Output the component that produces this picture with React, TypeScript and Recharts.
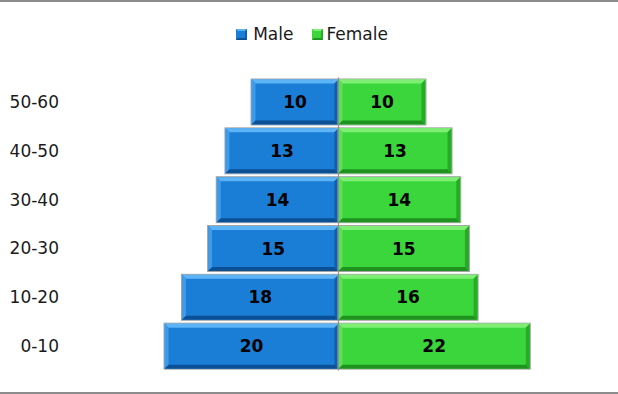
import React from "react";
import { BarChart, Bar, XAxis, YAxis, Legend, LabelList, ReferenceLine } from "recharts";

const ageGroups = ["50-60", "40-50", "30-40", "20-30", "10-20", "0-10"];
const maleValues = [10, 13, 14, 15, 18, 20];
const femaleValues = [10, 13, 14, 15, 16, 22];

const data = ageGroups.map((age, i) => ({
  age,
  male: -maleValues[i],
  female: femaleValues[i],
}));

const FONT = "'DejaVu Sans', Verdana, sans-serif";

const palettes: Record<string, { main: string; top: string; left: string; right: string; bottom: string }> = {
  male: { main: "#1a7dd6", top: "#5cb3f5", left: "#3f9ae8", right: "#0f5fae", bottom: "#0b4f94" },
  female: { main: "#3bd63b", top: "#7eef74", left: "#5be055", right: "#28aa28", bottom: "#1f921f" },
};

const BevelBar = (props: any) => {
  const { x, y, width, height, pal } = props;
  if (width == null || height == null) return null;
  const x0 = Math.min(x, x + width);
  const w = Math.abs(width);
  const y0 = Math.min(y, y + height);
  const h = Math.abs(height);
  const b = 4;
  const p = palettes[pal];
  return (
    <g>
      <rect x={x0 - 0.5} y={y0 - 0.5} width={w + 1} height={h + 1} fill="none" stroke="#a5a5a5" strokeWidth={1} />
      <rect x={x0} y={y0} width={w} height={h} fill={p.main} />
      <polygon points={`${x0},${y0} ${x0 + w},${y0} ${x0 + w - b},${y0 + b} ${x0 + b},${y0 + b}`} fill={p.top} />
      <polygon points={`${x0},${y0} ${x0 + b},${y0 + b} ${x0 + b},${y0 + h - b} ${x0},${y0 + h}`} fill={p.left} />
      <polygon points={`${x0 + w},${y0} ${x0 + w},${y0 + h} ${x0 + w - b},${y0 + h - b} ${x0 + w - b},${y0 + b}`} fill={p.right} />
      <polygon points={`${x0},${y0 + h} ${x0 + w},${y0 + h} ${x0 + w - b},${y0 + h - b} ${x0 + b},${y0 + h - b}`} fill={p.bottom} />
    </g>
  );
};

const AgeTick = (props: any) => {
  const { y, payload } = props;
  return (
    <text x={59} y={y} textAnchor="end" dominantBaseline="central" fontFamily={FONT} fontSize={17} fill="#1a1a1a">
      {payload.value}
    </text>
  );
};

const LegendIcon = ({ pal }: { pal: string }) => {
  const p = palettes[pal];
  return (
    <svg width={11} height={11} style={{ display: "block" }}>
      <rect x={0} y={0} width={11} height={11} fill={p.main} />
      <polygon points="0,0 11,0 9,2 2,2" fill={p.top} />
      <polygon points="11,0 11,11 9,9 9,2" fill={p.right} />
      <polygon points="0,11 11,11 9,9 2,9" fill={p.bottom} />
    </svg>
  );
};

const CustomLegend = () => (
  <div style={{ display: "flex", justifyContent: "center", alignItems: "center", fontFamily: FONT, fontSize: 17, color: "#1a1a1a" }}>
    <div style={{ display: "flex", alignItems: "center", marginRight: 19 }}>
      <LegendIcon pal="male" />
      <span style={{ marginLeft: 6 }}>Male</span>
    </div>
    <div style={{ display: "flex", alignItems: "center" }}>
      <LegendIcon pal="female" />
      <span style={{ marginLeft: 3 }}>Female</span>
    </div>
  </div>
);

const absFmt = (v: any) => Math.abs(Number(v));

export default function App() {
  return (
    <div
      style={{
        position: "absolute",
        left: 0,
        top: 0,
        width: 618,
        height: 394,
        background: "#ffffff",
        borderTop: "2px solid #8c8c8c",
        borderBottom: "2px solid #8c8c8c",
        boxSizing: "border-box",
      }}
    >
      <div style={{ position: "absolute", left: 0, top: -2 }}>
        <BarChart
          width={618}
          height={394}
          data={data}
          layout="vertical"
          stackOffset="sign"
          barCategoryGap={2}
          margin={{ top: 77.5, right: 36, bottom: 23.5, left: 0 }}
        >
          <XAxis type="number" domain={[-28, 28]} hide />
          <YAxis
            type="category"
            dataKey="age"
            width={95}
            axisLine={false}
            tickLine={false}
            tick={<AgeTick />}
          />
          <Legend
            layout="horizontal"
            verticalAlign="middle"
            align="center"
            content={<CustomLegend />}
            wrapperStyle={{ top: 24, left: 0, width: 624 }}
          />
          <Bar dataKey="male" stackId="a" isAnimationActive={false} shape={<BevelBar pal="male" />}>
            <LabelList dataKey="male" position="center" formatter={absFmt} fill="#000" fontFamily={FONT} fontWeight="bold" fontSize={17} />
          </Bar>
          <Bar dataKey="female" stackId="a" isAnimationActive={false} shape={<BevelBar pal="female" />}>
            <LabelList dataKey="female" position="center" formatter={absFmt} fill="#000" fontFamily={FONT} fontWeight="bold" fontSize={17} />
          </Bar>
          <ReferenceLine x={0} stroke="#8f8f8f" strokeWidth={1} />
        </BarChart>
      </div>
    </div>
  );
}
